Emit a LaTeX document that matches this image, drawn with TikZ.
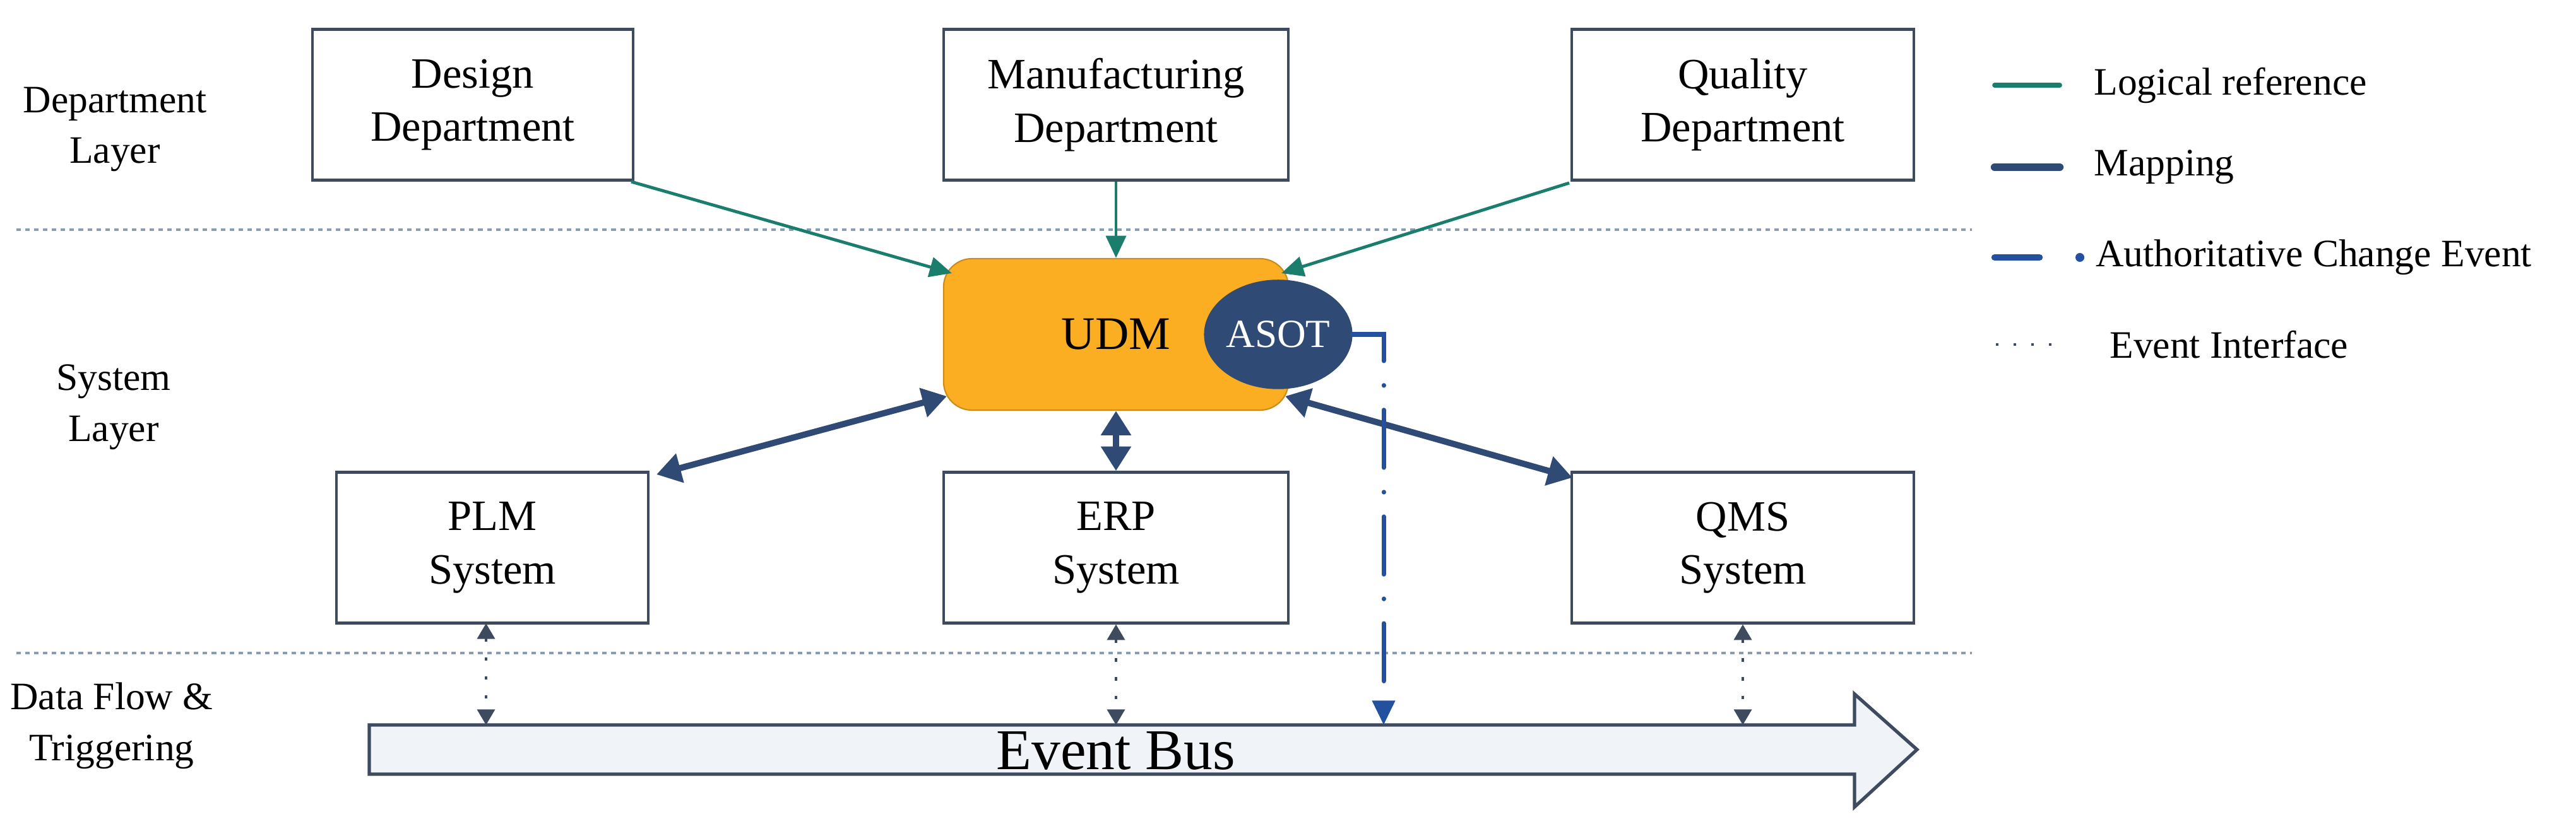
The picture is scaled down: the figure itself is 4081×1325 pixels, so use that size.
\documentclass[tikz,border=0pt]{standalone}
\usepackage{fontspec}
\setmainfont{Liberation Serif}
\usetikzlibrary{arrows.meta,shapes.geometric}
\definecolor{teal1}{HTML}{1B7D6C}
\definecolor{navy}{HTML}{2F4A75}
\definecolor{evblue}{HTML}{2450A0}
\definecolor{slate}{HTML}{3E4B5E}
\definecolor{udm}{HTML}{FBAE21}
\definecolor{busfill}{HTML}{F0F3F8}
\definecolor{sep}{HTML}{8A9BB5}
\begin{document}
\begin{tikzpicture}[x=0.01cm,y=-0.01cm,
  box/.style={draw=slate,line width=1.2pt,fill=white,minimum width=5.0cm,minimum height=2.39cm,align=center,font=\fontsize{19.5}{24}\selectfont},
  lbl/.style={align=center,font=\fontsize{17.5}{23}\selectfont},
  logic/.style={teal1,line width=1.4pt,-{Triangle[length=10pt,width=9pt]}},
  mapping/.style={navy,line width=2.8pt,{Triangle[length=11pt,width=13pt]}-{Triangle[length=11pt,width=13pt]}},
  iface/.style={slate,line width=0.9pt,dash pattern=on 1.5pt off 7pt,{Triangle[length=7pt,width=8pt]}-{Triangle[length=7pt,width=8pt]}},
  sepl/.style={sep,line width=1.2pt,dash pattern=on 2pt off 2pt},
  legtxt/.style={anchor=west,font=\fontsize{17.5}{22}\selectfont}]
\useasboundingbox (0,0) rectangle (4081,1325);
% separators
\draw[sepl] (26,364) -- (3124,364);
\draw[sepl] (26,1035) -- (3124,1035);
% layer labels
\node[lbl] (l1) at (182,205) {Department\\Layer};
\node[lbl] (l2) at (180,645) {System\\Layer};
\node[lbl] (l3) at (177,1150) {Data Flow \&\\Triggering};
% department boxes
\node[box,minimum width=5.08cm] (des) at (749,166) {Design\\Department};
\node[box,minimum width=5.46cm] (man) at (1768,166) {Manufacturing\\Department};
\node[box,minimum width=5.41cm] (qua) at (2761,166) {Quality\\Department};
% UDM
\node[draw=udm!80!black,line width=0.6pt,fill=udm,rounded corners=0.45cm,minimum width=5.46cm,minimum height=2.4cm,font=\fontsize{21}{25}\selectfont] (udm) at (1768,530) {UDM};
\node[ellipse,fill=navy,draw=navy,minimum width=1.9cm,minimum height=1.72cm,inner sep=0pt,text=white,font=\fontsize{18}{22}\selectfont] (asot) at (2025,530) {ASOT};
% systems
\node[box,minimum width=4.94cm] (plm) at (780,868) {PLM\\System};
\node[box,minimum width=5.46cm] (erp) at (1768,868) {ERP\\System};
\node[box,minimum width=5.41cm] (qms) at (2761,868) {QMS\\System};
% event bus
\path[draw=slate,line width=1.5pt,fill=busfill] (585,1149) -- (2938,1149) -- (2938,1100) -- (3037,1188) -- (2938,1279) -- (2938,1227) -- (585,1227) -- cycle;
\node[font=\fontsize{26}{30}\selectfont] (bus) at (1768,1190) {Event Bus};
\coordinate (b1) at (770,1149);
\coordinate (b2) at (1768,1149);
\coordinate (b3) at (2761,1149);
\coordinate (b4) at (2192,1149);
% logical references
\draw[logic] (1000,288) -- (1508,433);
\draw[logic] (man.south) -- (udm.north);
\draw[logic] (2486,290) -- (2030,433);
% mapping
\draw[mapping] (1500,628) -- (1040,752);
\draw[mapping] (udm.south) -- (erp.north);
\draw[mapping] (2036,628) -- (2491,757);
% event interfaces
\draw[iface] (770,988) -- (b1);
\draw[iface] (erp.south) -- (b2);
\draw[iface] (qms.south) -- (b3);
% authoritative change event
\draw[evblue,line width=2pt,dash pattern=on 26pt off 11pt on 0.1pt off 11pt,line cap=round,-{Triangle[length=11pt,width=10pt]}] (asot.east) -- (2192,530) -- (b4);
% legend
\coordinate (g1a) at (3160,135); \coordinate (g1b) at (3263,135);
\draw[teal1,line width=2.2pt,line cap=round] (g1a) -- (g1b);
\node[legtxt] (t1) at (3305,135) {Logical reference};
\coordinate (g2a) at (3160,265); \coordinate (g2b) at (3263,265);
\draw[navy,line width=3.5pt,line cap=round] (g2a) -- (g2b);
\node[legtxt] (t2) at (3305,265) {Mapping};
\coordinate (g3a) at (3160,408); \coordinate (g3b) at (3231,408); \coordinate (g3c) at (3295,408);
\draw[evblue,line width=3pt,line cap=round] (g3a) -- (g3b);
\fill[evblue] (g3c) circle (2pt);
\node[legtxt] (t3) at (3308,408) {Authoritative Change Event};
\coordinate (g4a) at (3162,546); \coordinate (g4b) at (3263,546);
\draw[slate,line width=1pt,dash pattern=on 1pt off 7pt] (g4a) -- (g4b);
\node[legtxt] (t4) at (3330,546) {Event Interface};
\end{tikzpicture}
\end{document}
